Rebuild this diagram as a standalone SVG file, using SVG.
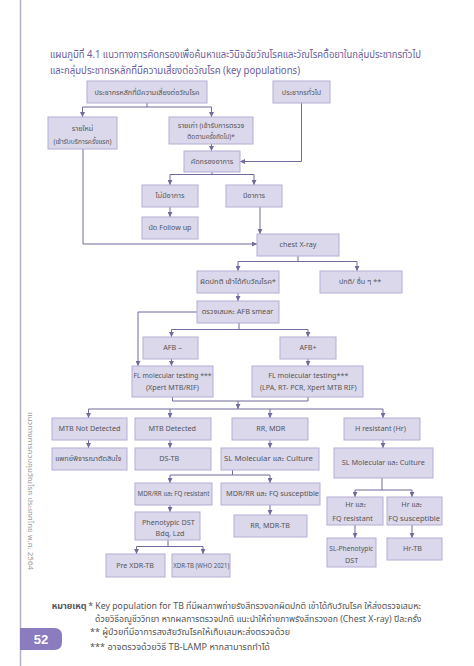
<svg xmlns="http://www.w3.org/2000/svg" width="474" height="666" viewBox="0 0 474 666">
<style>
.box{fill:#dbd8ec;stroke:#b3add3;stroke-width:1}
.t{font-family:"Noto Sans Thai","Noto Sans","Liberation Sans",sans-serif;font-size:7.2px;fill:#555;text-anchor:middle}
.c{fill:none;stroke:#6f6b9c;stroke-width:1}
.ca{fill:none;stroke:#6f6b9c;stroke-width:1;marker-end:url(#ah)}
.title{font-family:"Noto Sans Thai","Noto Sans","Liberation Sans",sans-serif;font-size:10px;fill:#6b5d9c}
.fn{font-family:"Noto Sans Thai","Noto Sans","Liberation Sans",sans-serif;font-size:8px;fill:#555}
</style>
<defs>
<marker id="ah" viewBox="0 0 6 6" refX="6" refY="3" markerWidth="5" markerHeight="5" markerUnits="userSpaceOnUse" orient="auto">
<path d="M0,0 L6,3 L0,6 z" fill="#6f6b9c"/>
</marker>
</defs>
<rect width="474" height="666" fill="#ffffff"/>
<line x1="20.5" y1="0" x2="20.5" y2="666" stroke="#b5b3c3" stroke-width="1.5"/>
<g id="margin">
<text transform="translate(28,412) rotate(90)" font-family="Noto Sans Thai, Noto Sans, Liberation Sans, sans-serif" font-size="7.5" fill="#999" textLength="158" lengthAdjust="spacingAndGlyphs">แนวทางการควบคุมวัณโรค ประเทศไทย พ.ศ. 2564</text>
<path d="M20,628 H54 Q62,628 62,636 V642 Q62,650 54,650 H20 Z" fill="#8b7bbf"/>
<text x="41" y="644" font-family="Liberation Sans, sans-serif" font-size="13" font-weight="bold" fill="#fff" text-anchor="middle">52</text>
</g>
<g id="title">
<text class="title" x="50" y="58" textLength="371" lengthAdjust="spacingAndGlyphs">แผนภูมิที่ 4.1 แนวทางการคัดกรองเพื่อค้นหาและวินิจฉัยวัณโรคและวัณโรคดื้อยาในกลุ่มประชากรทั่วไป</text>
<text class="title" x="50" y="74" textLength="250" lengthAdjust="spacingAndGlyphs">และกลุ่มประชากรหลักที่มีความเสี่ยงต่อวัณโรค (key populations)</text>
</g>
<g id="connectors">
<path class="c" d="M147,103 V107"/>
<path class="ca" d="M147,107 H82.5 V117"/>
<path class="ca" d="M147,107 H211.5 V117"/>
<path class="ca" d="M211.5,144 V151"/>
<path class="ca" d="M301.5,103 V161.5 H240"/>
<path class="c" d="M212,172 V174.5"/>
<path class="ca" d="M212,174.5 H170 V185"/>
<path class="ca" d="M212,174.5 H254 V185"/>
<path class="ca" d="M170,207 V217"/>
<path class="ca" d="M260,207 V234"/>
<path class="ca" d="M83,149 V244 H257"/>
<path class="c" d="M298,256 V261.5"/>
<path class="ca" d="M298,261.5 H238 V271"/>
<path class="ca" d="M298,261.5 H357 V271"/>
<path class="ca" d="M238,293 V301"/>
<path class="ca" d="M197,312 H138 V366"/>
<path class="c" d="M239,323 V329.5"/>
<path class="ca" d="M239,329.5 H171.5 V337"/>
<path class="ca" d="M239,329.5 H308 V337"/>
<path class="ca" d="M171.5,359 V366"/>
<path class="ca" d="M308,359 V366"/>
<path class="c" d="M172.5,397 V401 H308 V397"/>
<path class="ca" d="M238,401 V409"/>
<path class="c" d="M88.5,409 H383"/>
<path class="ca" d="M88.5,409 V418"/>
<path class="ca" d="M170,409 V418"/>
<path class="ca" d="M270,409 V418"/>
<path class="ca" d="M383,409 V418"/>
<path class="ca" d="M88.5,440 V448"/>
<path class="ca" d="M170,440 V448"/>
<path class="ca" d="M270,440 V448"/>
<path class="ca" d="M383,440 V448"/>
<path class="c" d="M232.5,470 V475"/>
<path class="ca" d="M232.5,475 H170 V483"/>
<path class="ca" d="M232.5,475 H270 V483"/>
<path class="ca" d="M170,505 V512"/>
<path class="ca" d="M270,505 V515"/>
<path class="c" d="M168,540 V546.5"/>
<path class="ca" d="M168,546.5 H136.5 V554"/>
<path class="ca" d="M168,546.5 H203 V554"/>
<path class="c" d="M382,478 V490"/>
<path class="ca" d="M382,490 H355 V497"/>
<path class="ca" d="M382,490 H412 V497"/>
<path class="ca" d="M355,525 V538"/>
<path class="ca" d="M412,525 V538"/>
</g>
<g id="n-kp"><rect class="box" x="87" y="81" width="120" height="22"/><text class="t" x="147" y="94.5" textLength="105" lengthAdjust="spacingAndGlyphs">ประชากรหลักที่มีความเสี่ยงต่อวัณโรค</text></g>
<g id="n-gp"><rect class="box" x="273" y="81" width="57" height="22"/><text class="t" x="301.5" y="94.5">ประชากรทั่วไป</text></g>
<g id="n-new"><rect class="box" x="48" y="117" width="69" height="32"/><text class="t" x="82.5" y="130.7">รายใหม่</text><text class="t" x="82.5" y="144" textLength="58" lengthAdjust="spacingAndGlyphs">(เข้ารับบริการครั้งแรก)</text></g>
<g id="n-old"><rect class="box" x="169" y="117" width="84" height="27"/><text class="t" x="211" y="127.5" textLength="66.7" lengthAdjust="spacingAndGlyphs">รายเก่า (เข้ารับการตรวจ</text><text class="t" x="211" y="138.5" textLength="47.3" lengthAdjust="spacingAndGlyphs">ติดตามครั้งถัดไป)*</text></g>
<g id="n-screen"><rect class="box" x="184" y="151" width="56" height="21"/><text class="t" x="212" y="164">คัดกรองอาการ</text></g>
<g id="n-nosym"><rect class="box" x="142" y="185" width="56" height="22"/><text class="t" x="170" y="198.4">ไม่มีอาการ</text></g>
<g id="n-sym"><rect class="box" x="226" y="185" width="56" height="22"/><text class="t" x="254" y="198.4">มีอาการ</text></g>
<g id="n-fu"><rect class="box" x="142" y="217" width="56" height="22"/><text class="t" x="170" y="230.4">นัด Follow up</text></g>
<g id="n-cxr"><rect class="box" x="257" y="234" width="82" height="22"/><text class="t" x="298" y="247.4">chest X-ray</text></g>
<g id="n-abn"><rect class="box" x="197" y="271" width="82" height="22"/><text class="t" x="238" y="284.4" textLength="76" lengthAdjust="spacingAndGlyphs">ผิดปกติ เข้าได้กับวัณโรค*</text></g>
<g id="n-norm"><rect class="box" x="320" y="271" width="82" height="22"/><text class="t" x="360" y="284.4">ปกติ/ อื่น ๆ **</text></g>
<g id="n-smear"><rect class="box" x="197" y="301" width="82" height="22"/><text class="t" x="237.5" y="314.4" textLength="71.7" lengthAdjust="spacingAndGlyphs">ตรวจเสมหะ AFB smear</text></g>
<g id="n-afbneg"><rect class="box" x="143" y="337" width="55" height="22"/><text class="t" x="172.5" y="350.4">AFB –</text></g>
<g id="n-afbpos"><rect class="box" x="280" y="337" width="56" height="22"/><text class="t" x="308" y="350.4">AFB+</text></g>
<g id="n-flL"><rect class="box" x="132" y="366" width="81" height="31"/><text class="t" x="172.5" y="377.5" textLength="78" lengthAdjust="spacingAndGlyphs">FL molecular testing ***</text><text class="t" x="172.5" y="389.8">(Xpert MTB/RIF)</text></g>
<g id="n-flR"><rect class="box" x="252" y="366" width="111" height="31"/><text class="t" x="308.3" y="377.5">FL molecular testing***</text><text class="t" x="308.3" y="389.8" textLength="96.7" lengthAdjust="spacingAndGlyphs">(LPA, RT- PCR, Xpert MTB RIF)</text></g>
<g id="n-mtbnd"><rect class="box" x="52" y="418" width="75" height="22"/><text class="t" x="89.5" y="431.4">MTB Not Detected</text></g>
<g id="n-mtbd"><rect class="box" x="135" y="418" width="76" height="22"/><text class="t" x="172.2" y="431.4">MTB Detected</text></g>
<g id="n-rr"><rect class="box" x="232" y="418" width="76" height="22"/><text class="t" x="270.8" y="431.4">RR, MDR</text></g>
<g id="n-hr"><rect class="box" x="344" y="418" width="76" height="22"/><text class="t" x="380.5" y="431.4">H resistant (Hr)</text></g>
<g id="n-doc"><rect class="box" x="52" y="448" width="75" height="22"/><text class="t" x="88.3" y="461.4" textLength="66" lengthAdjust="spacingAndGlyphs">แพทย์พิจารณาตัดสินใจ</text></g>
<g id="n-ds"><rect class="box" x="135" y="448" width="76" height="22"/><text class="t" x="169.2" y="461.4">DS-TB</text></g>
<g id="n-slm"><rect class="box" x="221" y="448" width="98" height="22"/><text class="t" x="268.5" y="461.4" textLength="89" lengthAdjust="spacingAndGlyphs">SL Molecular และ Culture</text></g>
<g id="n-slr"><rect class="box" x="334" y="448" width="99" height="30"/><text class="t" x="383.3" y="465.4" textLength="83" lengthAdjust="spacingAndGlyphs">SL Molecular และ Culture</text></g>
<g id="n-fqr"><rect class="box" x="135" y="483" width="77" height="22"/><text class="t" x="173.5" y="496.4" textLength="72" lengthAdjust="spacingAndGlyphs">MDR/RR และ FQ resistant</text></g>
<g id="n-fqs"><rect class="box" x="221" y="483" width="99" height="22"/><text class="t" x="272.5" y="496.4" textLength="93" lengthAdjust="spacingAndGlyphs">MDR/RR และ FQ susceptible</text></g>
<g id="n-pheno"><rect class="box" x="135" y="512" width="65" height="28"/><text class="t" x="168.3" y="524.7">Phenotypic DST</text><text class="t" x="170" y="535.7">Bdq, Lzd</text></g>
<g id="n-rrmdr"><rect class="box" x="234" y="515" width="73" height="22"/><text class="t" x="270" y="528.4">RR, MDR-TB</text></g>
<g id="n-prexdr"><rect class="box" x="106" y="554" width="59" height="23"/><text class="t" x="135" y="567.9">Pre XDR-TB</text></g>
<g id="n-xdr"><rect class="box" x="172" y="554" width="58" height="23"/><text class="t" x="201.3" y="567.9" textLength="56" lengthAdjust="spacingAndGlyphs">XDR-TB (WHO 2021)</text></g>
<g id="n-hrfqr"><rect class="box" x="327" y="497" width="56" height="28"/><text class="t" x="355.5" y="507.4">Hr และ</text><text class="t" x="352.5" y="520.7">FQ resistant</text></g>
<g id="n-hrfqs"><rect class="box" x="387" y="497" width="55" height="28"/><text class="t" x="411.7" y="507.4">Hr และ</text><text class="t" x="414.2" y="520.7" textLength="51.7" lengthAdjust="spacingAndGlyphs">FQ susceptible</text></g>
<g id="n-slpheno"><rect class="box" x="327" y="538" width="49" height="29"/><text class="t" x="351.3" y="550.7" textLength="44" lengthAdjust="spacingAndGlyphs">SL-Phenotypic</text><text class="t" x="351.7" y="563.4">DST</text></g>
<g id="n-hrtb"><rect class="box" x="387" y="538" width="55" height="22"/><text class="t" x="412.5" y="551.4">Hr-TB</text></g>
<g id="footnote">
<text class="fn" x="51.7" y="609" font-weight="bold" fill="#333" textLength="35" lengthAdjust="spacingAndGlyphs">หมายเหตุ</text>
<text class="fn" x="88.3" y="609" textLength="333" lengthAdjust="spacingAndGlyphs">* Key population for TB ที่มีผลภาพถ่ายรังสีทรวงอกผิดปกติ เข้าได้กับวัณโรค ให้ส่งตรวจเสมหะ</text>
<text class="fn" x="95" y="622" textLength="326.5" lengthAdjust="spacingAndGlyphs">ด้วยวิธีอณูชีววิทยา หากผลการตรวจปกติ แนะนำให้ถ่ายภาพรังสีทรวงอก (Chest X-ray) ปีละครั้ง</text>
<text class="fn" x="90" y="635" textLength="200" lengthAdjust="spacingAndGlyphs">** ผู้ป่วยที่มีอาการสงสัยวัณโรคให้เก็บเสมหะส่งตรวจด้วย</text>
<text class="fn" x="90" y="650" textLength="180" lengthAdjust="spacingAndGlyphs">*** อาจตรวจด้วยวิธี TB-LAMP หากสามารถทำได้</text>
</g>
</svg>
